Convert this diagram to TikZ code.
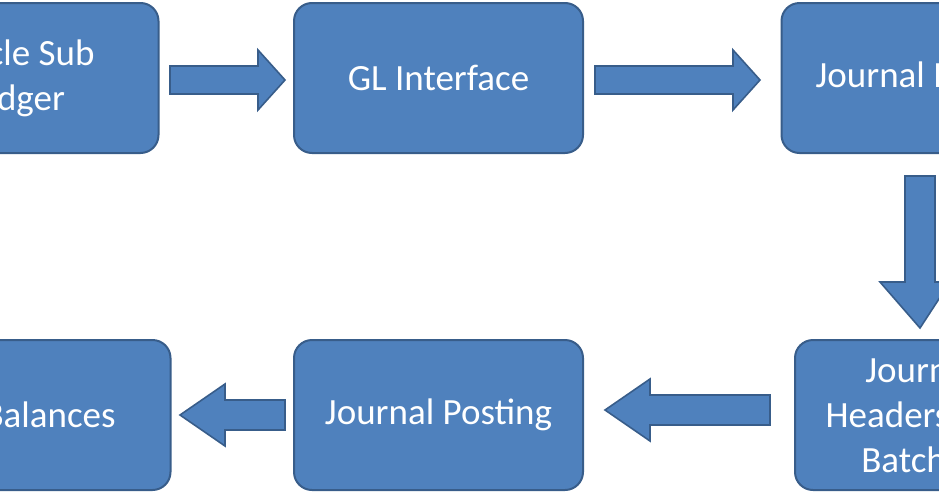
\documentclass[tikz,border=0pt]{standalone}
\usepackage{fontspec}
\setmainfont{Carlito}
\begin{document}
\begin{tikzpicture}[x=1pt,y=-1pt,
  box/.style={draw=boxline,line width=2pt,fill=boxfill,rounded corners=18pt,text=white,font=\fontsize{37}{45}\selectfont,align=center,inner sep=0pt,minimum width=289pt,minimum height=150pt},
  barrow/.style={draw=boxline,line width=1.6pt,fill=boxfill,line join=miter}]
\definecolor{boxfill}{HTML}{4F81BD}
\definecolor{boxline}{HTML}{385D8A}
\useasboundingbox (0,0) rectangle (939,493);
\clip (0,0) rectangle (939,493);
\node[box] (ledger) at (14,78) {Oracle Sub\\Ledger};
\node[box] (gli) at (438.5,78) {GL Interface};
\node[box] (imp) at (926,78) {Journal Import};
\node[box,minimum width=250pt] (hdr) at (920,415) {Journal\\Headers and\\Batches};
\node[box] (post) at (438.5,415) {Journal Posting};
\node[box] (bal) at (26,415) {GL Balances};
% arrows
\draw[barrow] (170,66)--(258,66)--(258,50)--(285,80)--(258,110)--(258,94)--(170,94)--cycle;
\draw[barrow] (595,66)--(733,66)--(733,50)--(760,80)--(733,110)--(733,94)--(595,94)--cycle;
\draw[barrow] (905,176)--(935,176)--(935,282)--(950,282)--(920,328)--(880,282)--(905,282)--cycle;
\draw[barrow] (770,395)--(650,395)--(650,379)--(605,410)--(650,441)--(650,425)--(770,425)--cycle;
\draw[barrow] (285,400)--(225,400)--(225,384)--(180,415)--(225,446)--(225,430)--(285,430)--cycle;
\end{tikzpicture}
\end{document}
